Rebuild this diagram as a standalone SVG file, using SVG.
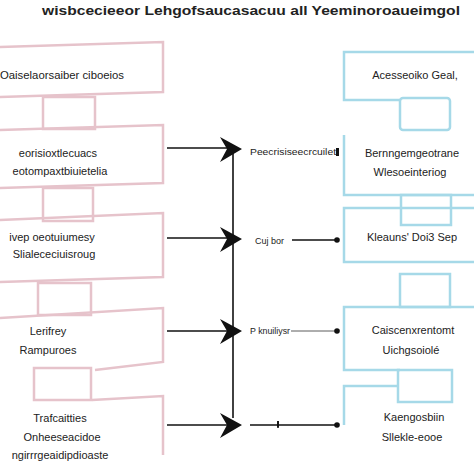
<svg xmlns="http://www.w3.org/2000/svg" width="474" height="474" viewBox="0 0 474 474">
<style>
.pk{fill:none;stroke:#e6c3cb;stroke-width:2.5}
.bl{fill:none;stroke:#a6d9e8;stroke-width:2.5}
.t{font-family:"Liberation Sans",Arial,sans-serif;font-size:11px;fill:#222;text-anchor:middle}
.tt{font-family:"Liberation Sans",Arial,sans-serif;font-size:13px;font-weight:bold;fill:#222}
.ml{font-family:"Liberation Sans",Arial,sans-serif;font-size:9px;fill:#222}
.ln{stroke:#111;stroke-width:1.6;fill:none}
</style>
<rect width="474" height="474" fill="#fff"/>
<text class="tt" x="42" y="15" textLength="418" lengthAdjust="spacingAndGlyphs">wisbcecieeor Lehgofsaucasacuu all Yeeminoroaueimgol</text>

<g id="left1"><path class="pk" d="M0,47 L163,42 L163,92 L0,97"/><rect class="pk" x="43" y="97" width="52" height="32"/><text class="t" x="62" y="79" textLength="124" lengthAdjust="spacingAndGlyphs">Oaiselaorsaiber ciboeios</text></g>
<g id="left2"><path class="pk" d="M0,130 L163,125 L163,183 L0,188"/><rect class="pk" x="43" y="188" width="50" height="33"/><text class="t" x="58" y="157">eorisioxtlecuacs</text><text class="t" x="60" y="175">eotompaxtbiuietelia</text></g>
<g id="left3"><path class="pk" d="M0,220 L163,213 L163,277 L0,282"/><rect class="pk" x="38" y="283" width="53" height="32"/><text class="t" x="52" y="241">ivep oeotuiumesy</text><text class="t" x="54" y="258">Slialececiuisroug</text></g>
<g id="left4"><path class="pk" d="M0,318 L163,308 L163,362 L95,370"/><rect class="pk" x="34" y="368" width="57" height="32"/><text class="t" x="48" y="335">Lerifrey</text><text class="t" x="48" y="354">Rampuroes</text></g>
<g id="left5"><path class="pk" d="M92,400 L163,396 L163,455"/><text class="t" x="60" y="422">Trafcaitties</text><text class="t" x="62" y="441">Onheeseacidoe</text><text class="t" x="60" y="459">ngirrrgeaidipdioaste</text></g>

<g id="right1"><path class="bl" d="M474,52 L344,52 L344,100 L400,100"/><rect class="bl" x="400" y="98" width="50" height="32" rx="3"/><text class="t" x="415" y="79">Acesseoiko Geal,</text></g>
<g id="right2"><path class="bl" d="M344,135 L344,195 L474,195"/><rect class="bl" x="401" y="195" width="50" height="30"/><text class="t" x="412" y="157">Bernngemgeotrane</text><text class="t" x="410" y="176">Wlesoeinteriog</text></g>
<g id="right3"><path class="bl" d="M474,208 L344,208 L344,262 L474,262"/><rect class="bl" x="400" y="274" width="50" height="33"/><text class="t" x="412" y="241">Kleauns' Doi3 Sep</text></g>
<g id="right4"><path class="bl" d="M474,307 L344,307 L344,370 L400,370"/><rect class="bl" x="398" y="370" width="54" height="32"/><text class="t" x="413" y="334">Caiscenxrentomt</text><text class="t" x="411" y="354">Uichgsoiolé</text></g>
<g id="right5"><path class="bl" d="M398,386 L344,386 L344,425"/><text class="t" x="414" y="421">Kaengosbiin</text><text class="t" x="412" y="441">Sllekle-eooe</text></g>

<g id="connectors">
<line class="ln" x1="167" y1="148" x2="232" y2="148"/>
<line class="ln" x1="167" y1="238" x2="232" y2="238"/>
<line class="ln" x1="167" y1="331" x2="232" y2="331"/>
<line class="ln" x1="167" y1="425" x2="232" y2="425"/>
<line class="ln" x1="233" y1="150" x2="233" y2="418"/>
<polygon points="242,149 220,137 227,149 220,162" fill="#111"/>
<polygon points="242,239 220,227 227,239 220,252" fill="#111"/>
<polygon points="242,331 220,319 227,331 220,344" fill="#111"/>
<polygon points="242,425 220,413 227,425 220,438" fill="#111"/>
<text class="ml" x="250" y="155" textLength="86" lengthAdjust="spacingAndGlyphs">Peecrisiseecrcuilet</text>
<rect x="336" y="148" width="3" height="8" fill="#111"/>
<text class="ml" x="255" y="244">Cuj bor</text>
<line class="ln" x1="292" y1="240" x2="336" y2="240"/><circle cx="337" cy="240" r="2.8" fill="#111"/>
<text class="ml" x="250" y="334" textLength="40" lengthAdjust="spacingAndGlyphs">P knuiliysr</text>
<line x1="291" y1="331" x2="336" y2="331" stroke="#333" stroke-width="0.8"/><circle cx="337" cy="331" r="2.8" fill="#111"/>
<line class="ln" x1="250" y1="425" x2="336" y2="425"/><circle cx="337" cy="425" r="2.8" fill="#111"/>
<line class="ln" x1="278" y1="421" x2="278" y2="427"/><line class="ln" x1="278" y1="421" x2="278" y2="428"/>
</g>
</svg>
